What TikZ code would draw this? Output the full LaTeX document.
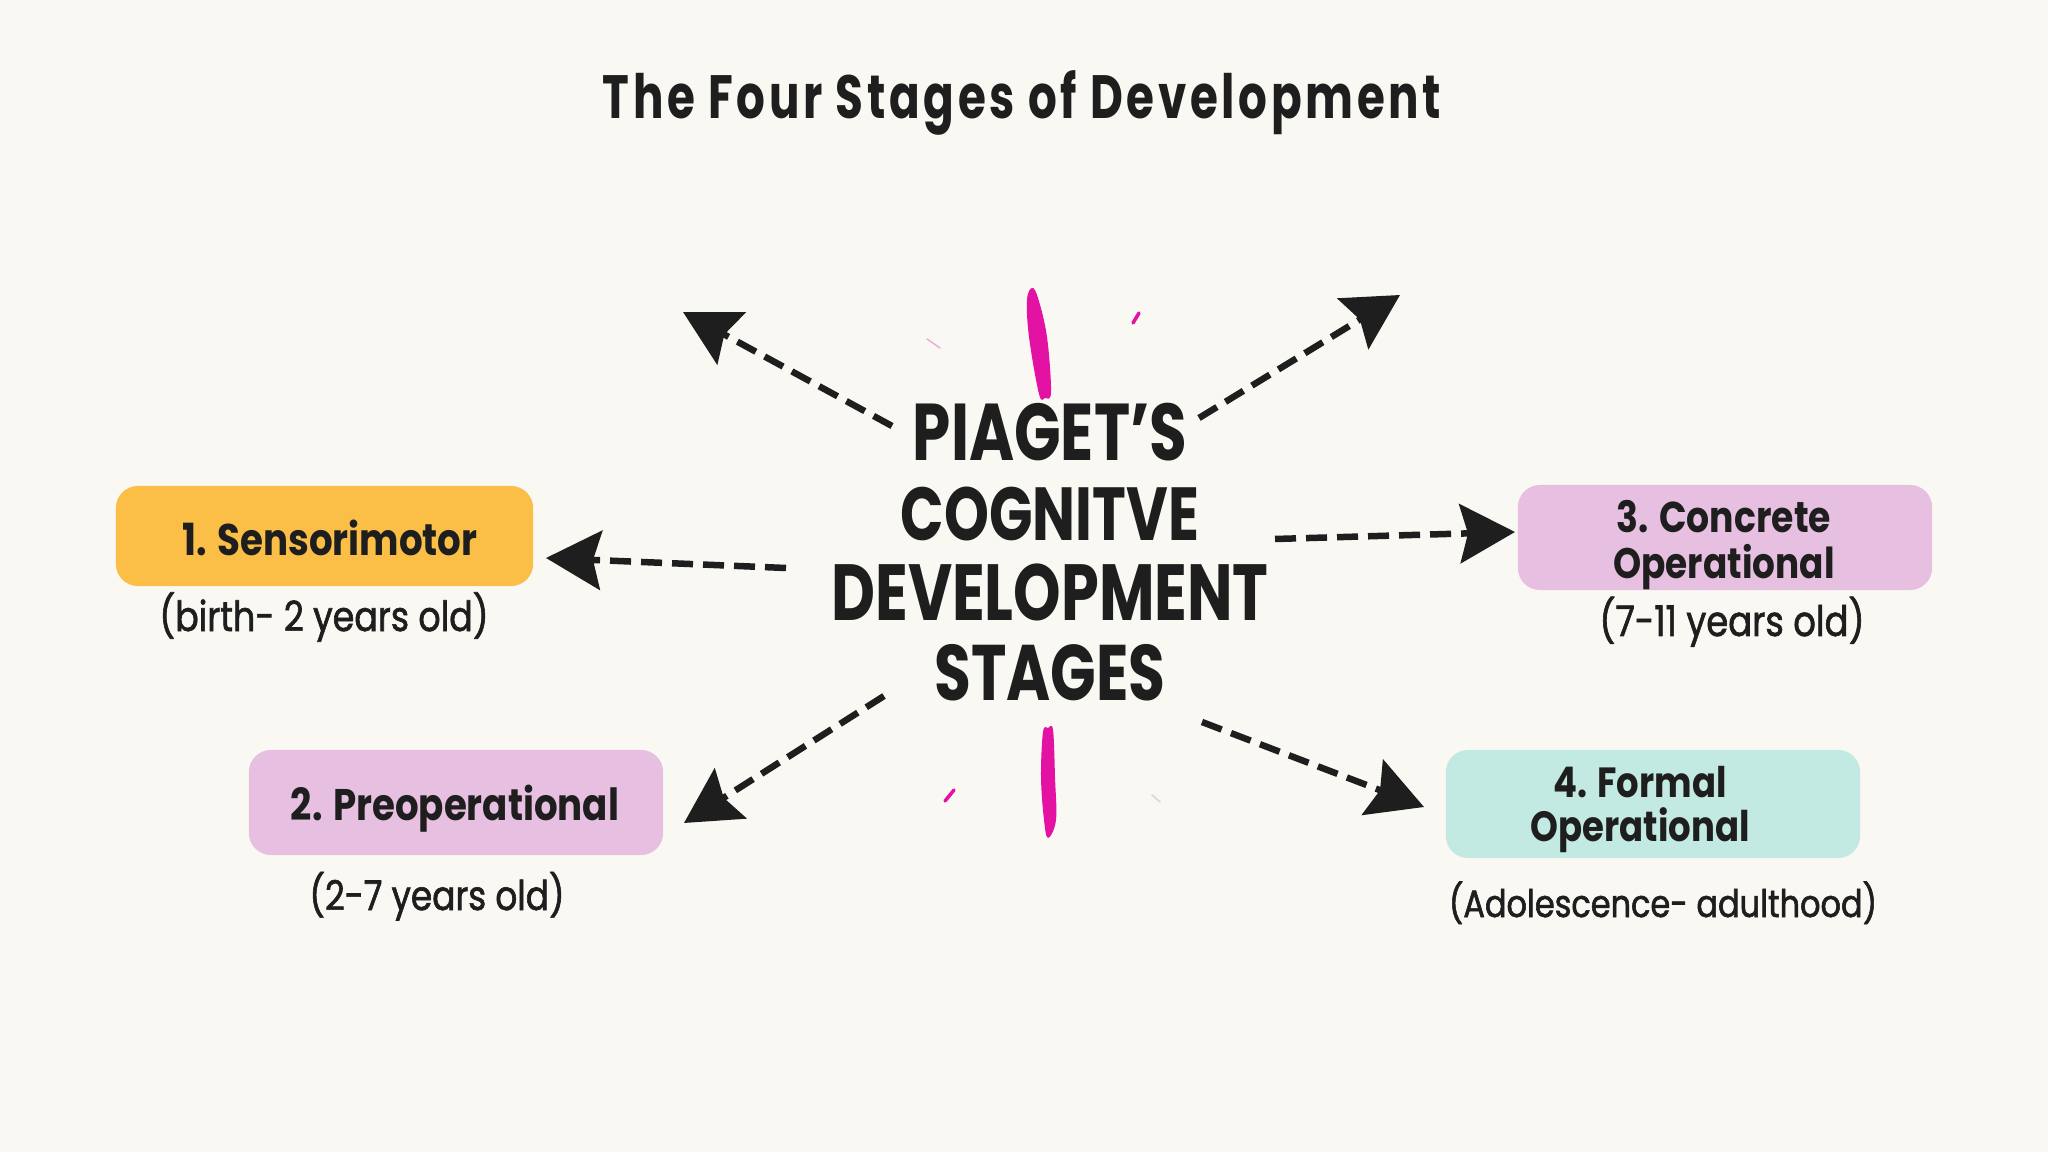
\documentclass[tikz,border=0pt]{standalone}
\usepackage{fontspec}
\usetikzlibrary{arrows.meta}
\newfontfamily\hand{Poppins}[FakeStretch=0.84]
\newfontfamily\handsub{Poppins}[FakeStretch=0.84,FakeBold=1.5]
\newfontfamily\handc{Poppins}[FakeStretch=0.76]
\newfontfamily\handt{Poppins}[FakeStretch=0.74,LetterSpace=6]
\definecolor{bg}{HTML}{FAF8F3}
\definecolor{ink}{HTML}{1E1E1E}
\definecolor{orangebox}{HTML}{FBBF48}
\definecolor{pinkbox}{HTML}{E7BFE0}
\definecolor{mintbox}{HTML}{C3EAE2}
\definecolor{brushpink}{HTML}{E412A3}
\definecolor{faintpink}{HTML}{F2A9D6}
\definecolor{faintgrey}{HTML}{D9D3D3}
\newcommand{\fitw}[2]{\resizebox{#1cm}{!}{#2}}
\begin{document}
\begin{tikzpicture}[x=0.01cm,y=-0.01cm,
  stagebox/.style={rounded corners=0.22cm, minimum width=4.14cm, inner sep=0pt, draw=none},
  lbl/.style={anchor=base, inner sep=0pt, text=ink},
  arr/.style={draw=ink, line width=0.065cm, dash pattern=on 0.21cm off 0.10cm,
    -{Stealth[length=0.55cm,width=0.59cm,inset=0.08cm]}},
  tick/.style={line cap=round}]
\useasboundingbox (0,0) rectangle (2048,1152);
\fill[bg] (0,0) rectangle (2048,1152);

% title
\node[lbl] (title) at (1022,119) {\handt\bfseries\fitw{8.38}{The Four Stages of Development}};

% center
\node[inner sep=0pt, align=center, text=ink, font=\fontsize{10pt}{22.76pt}\handc\bfseries] (ctr) at (1050,552)
  {\fitw{2.74}{PIAGET’S}\\\fitw{2.98}{COGNITVE}\\\fitw{4.37}{DEVELOPMENT}\\\fitw{2.31}{STAGES}};

% pink brush strokes
\fill[brushpink] plot[smooth cycle, tension=0.6] coordinates
  {(1032,288) (1038,298) (1047,337) (1051,392) (1045,398) (1039,394) (1029,337) (1027,300)};
\fill[brushpink] plot[smooth cycle, tension=0.6] coordinates
  {(1043,732) (1048,728) (1053,730) (1055,777) (1056,820) (1048,838) (1044,820) (1041,777)};
\draw[tick, brushpink, line width=0.035cm] (1133,323) -- (1139,313);
\draw[tick, brushpink, line width=0.035cm] (945,801) -- (954,790);
\draw[tick, faintpink, line width=0.015cm] (927,339) -- (940,348);
\draw[tick, faintgrey, line width=0.015cm] (1152,795) -- (1160,802);

% boxes
\node[stagebox, fill=orangebox, minimum width=4.17cm, minimum height=1.00cm] (b1) at (324.5,536) {};
\node[stagebox, fill=pinkbox,   minimum height=1.05cm] (b2) at (456,802.5) {};
\node[stagebox, fill=pinkbox,   minimum height=1.05cm] (b3) at (1725,537.5) {};
\node[stagebox, fill=mintbox,   minimum height=1.08cm] (b4) at (1653,804) {};

% box labels
\node[lbl] (t1) at (330,556) {\hand\bfseries\fitw{2.95}{1. Sensorimotor}};
\node[lbl] (s1) at (324,631) {\handsub\fitw{3.29}{(birth- 2 years old)}};
\node[lbl] (t2) at (455,820) {\hand\bfseries\fitw{3.28}{2. Preoperational}};
\node[lbl] (s2) at (437,910) {\handsub\fitw{2.55}{(2-7 years old)}};
\node[lbl] (t3a) at (1724,533) {\hand\bfseries\fitw{2.14}{3. Concrete}};
\node[lbl] (t3b) at (1724,579) {\hand\bfseries\fitw{2.21}{Operational}};
\node[lbl] (s3) at (1732,636) {\handsub\fitw{2.65}{(7-11 years old)}};
\node[lbl] (t4a) at (1640,797) {\hand\bfseries\fitw{1.73}{4. Formal}};
\node[lbl] (t4b) at (1640,841) {\hand\bfseries\fitw{2.19}{Operational}};
\node[lbl] (s4) at (1663,917) {\handsub\fitw{4.28}{(Adolescence- adulthood)}};

% arrow end points
\coordinate (ulS) at (892,426);  \coordinate (ulT) at (683,312);
\coordinate (urS) at (1199,418); \coordinate (urT) at (1400,295);
\coordinate (lS)  at (786,568);  \coordinate (lT)  at (546,558);
\coordinate (rS)  at (1275,539); \coordinate (rT)  at (1515,532);
\coordinate (llS) at (884,696);  \coordinate (llT) at (684,823);
\coordinate (lrS) at (1202,722); \coordinate (lrT) at (1424,807);

\draw[arr] (ulS) -- (ulT);
\draw[arr] (urS) -- (urT);
\draw[arr] (lS) -- (lT);
\draw[arr] (rS) -- (rT);
\draw[arr] (llS) -- (llT);
\draw[arr] (lrS) -- (lrT);
\end{tikzpicture}
\end{document}
